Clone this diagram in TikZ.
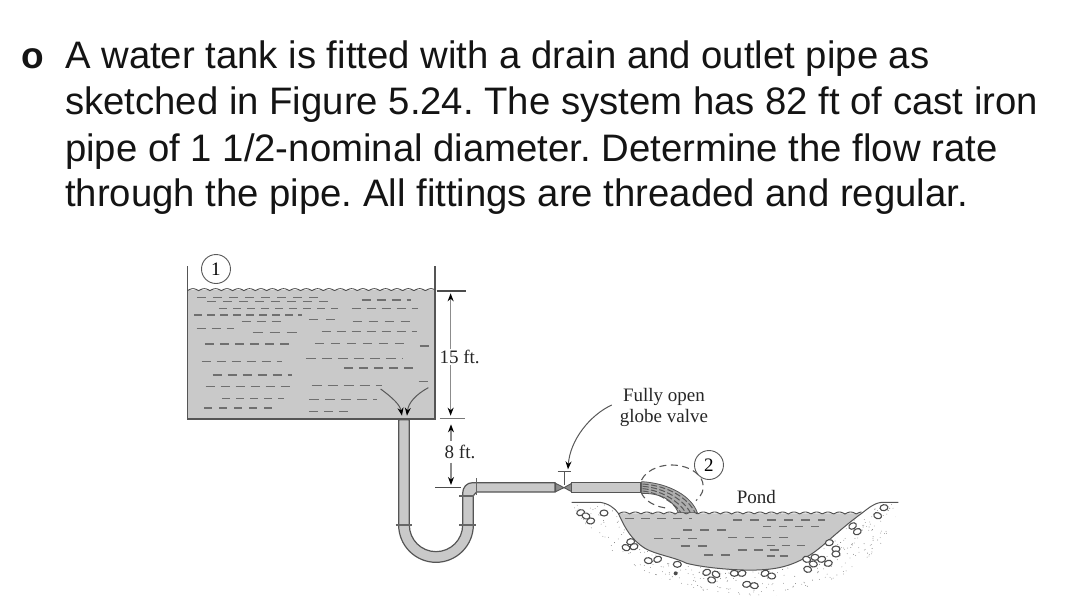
\documentclass[tikz,border=0pt]{standalone}
\usepackage{fontspec}
\setmainfont{Liberation Sans}
\newfontfamily\figfont{Liberation Serif}
\usetikzlibrary{arrows.meta}
\definecolor{waterc}{HTML}{C9C9C9}
\definecolor{linec}{HTML}{555555}
\definecolor{dashc}{HTML}{6F6F6F}
\definecolor{dimc}{HTML}{8C8C8C}
\tikzset{
  bodytext/.style={anchor=base west,inner sep=0pt,font=\fontsize{38.3}{42}\selectfont,text=black!92},
  figlabel/.style={font=\figfont\fontsize{19}{22}\selectfont,inner sep=1pt,align=center,text=black!85},
  stationmark/.style={draw=black!65,line width=.9pt,circle,minimum size=29pt,inner sep=0pt,fill=white,font=\figfont\fontsize{19}{20}\selectfont},
  outline/.style={draw=linec,line width=1.2pt},
  tick/.style={draw=dimc!85!black,line width=1.1pt},
  dimline/.style={draw=dimc,line width=1.3pt,-{Stealth[length=8pt,width=6pt,black]}},
  flowline/.style={draw=black!65,line width=1pt,-{Stealth[length=8pt,width=6pt,black]}},
  stone/.style={draw=black!70,line width=1.1pt,fill=white},
}
\newcommand{\waterrows}[1]{\foreach \ya/\xa/\xb/\onv/\offv in {#1}{\draw[dashc,line width=1.25pt,dash pattern=on \onv pt off \offv pt] (\xa,\ya)--(\xb,\ya);}}
\frenchspacing
\begin{document}
\begin{tikzpicture}[x=1pt,y=-1pt]
\useasboundingbox (0,0) rectangle (1073,595);
% text
\node[bodytext,font=\bfseries\fontsize{37}{42}\selectfont] (bul) at (21,68) {o};
\node[bodytext] (t1) at (65,68) {A water tank is fitted with a drain and outlet pipe as};
\node[bodytext] (t2) at (65,114) {sketched in Figure 5.24. The system has 82 ft of cast iron};
\node[bodytext] (t3) at (65,161) {pipe of 1 1/2-nominal diameter. Determine the flow rate};
\node[bodytext] (t4) at (65,206) {through the pipe. All fittings are threaded and regular.};

% tank
\begin{scope}[shift={(170,240)},x=.3333pt,y=-.3333pt]
\fill[waterc] (52,150)--(52,537)--(795,537)--(795,150)--cycle;
\draw[outline] (52,78)--(52,537)--(795,537)--(795,78);
\draw[black!70,line width=.9pt] plot[domain=52:795,samples=220] (\x,{150-6*abs(sin((\x-52)/34*180))+2});
\waterrows{172/82/462/9/7,185/112/492/9/7,180/575/722/9/6,206/148/505/8/6,206/545/745/9/6,225/72/395/8/5,238/418/497/9/8,245/215/345/9/6,245/548/722/9/7,265/80/192/9/6,278/248/395/10/7,275/455/742/9/6,312/105/372/9/6,310/435/715/9/7,318/750/780/9/1,355/408/697/10/6,364/95/335/9/6,384/523/745/9/6,405/128/367/9/6,425/746/775/9/1,437/425/635/10/6,440/107/365/9/6,475/157/343/8/6,479/418/620/10/6,504/103/327/8/7,515/418/547/9/6}
\coordinate (inA) at (632,447);
\coordinate (inB) at (775,443);
\coordinate (inAe) at (696,527);
\coordinate (inBe) at (711,527);
\draw[flowline] (inA) .. controls (670,475) and (690,495) .. (inAe);
\draw[flowline] (inB) .. controls (735,465) and (715,490) .. (inBe);
\node[stationmark] (s1) at (138,87) {1};
\draw[tick,black!70] (800,153)--(888,153);
\draw[tick] (810,535)--(885,535);
\coordinate (d15a) at (842,160);
\coordinate (d15b) at (842,527);
\node[figlabel] (l15) at (869,351) {15 ft.};
\draw[dimline] (842,328) -- (d15a);
\draw[dimline] (842,375) -- (d15b);
\end{scope}

% pipe + valve
\begin{scope}[shift={(380,400)},x=.3333pt,y=-.3333pt]
\draw[outline,fill=waterc]
 (56,59)--(56,375) arc[start angle=180,end angle=0,radius=112]
 --(280,287)--(290,276)--(525,276)--(525,248)--(278,248)
 .. controls (260,248) and (248,262) .. (248,280)
 --(248,375) arc[start angle=0,end angle=180,radius=80]
 --(88,59)--cycle;
\draw[tick,black!60] (47,375)--(97,375);
\draw[tick,black!60] (238,375)--(288,375);
\draw[tick,black!60] (238,288)--(282,288);
\draw[tick,black!60] (290,235)--(290,285);
\draw[outline,fill=waterc] (575,248) rectangle (780,275);
\draw[outline,fill=black!45,line width=.9pt] (527,250)--(552,263)--(527,275)--cycle;
\draw[outline,fill=black!45,line width=.9pt] (575,250)--(552,263)--(575,275)--cycle;
\draw[linec,line width=.9pt] (552,215)--(552,256);
\draw[linec,line width=.9pt] (533,215)--(572,215);
\coordinate (valve) at (564,208);
\draw[tick] (180,55)--(255,55);
\draw[tick,black!70] (165,262)--(243,262);
\coordinate (d8a) at (213,73);
\coordinate (d8b) at (213,255);
\node[figlabel] (l8) at (240,156) {8 ft.};
\draw[dimline] (213,122) -- (d8a);
\draw[dimline] (213,188) -- (d8b);
\end{scope}

% pond
\begin{scope}[shift={(560,440)},x=.3333pt,y=-.3333pt]
\begin{scope}
\clip (35,190)--(130,190)--(170,215)--(905,222)--(960,190)--(1015,190)
  .. controls (1000,300) and (900,440) .. (620,470)
  .. controls (400,470) and (150,400) .. (35,190)--cycle;
\pgfmathsetseed{5}
\foreach \i in {1,...,1000}{
  \pgfmathsetmacro{\px}{35+rnd*980}
  \pgfmathsetmacro{\py}{190+rnd*280}
  \fill[black!55] (\px,\py) circle (.42pt);
}
\end{scope}
\fill[waterc] (175,220)
 .. controls (195,265) and (215,300) .. (255,325)
 .. controls (290,345) and (340,350) .. (380,370)
 .. controls (440,385) and (540,392) .. (590,390)
 .. controls (660,388) and (700,375) .. (750,345)
 .. controls (790,320) and (830,275) .. (905,220)--cycle;
\draw[outline,line width=1pt] (35,187)--(120,187) .. controls (145,190) and (165,205) .. (175,220)
 .. controls (195,265) and (215,300) .. (255,325)
 .. controls (290,345) and (340,350) .. (380,370)
 .. controls (440,385) and (540,392) .. (590,390)
 .. controls (660,388) and (700,375) .. (750,345)
 .. controls (790,320) and (830,275) .. (905,220)
 .. controls (925,205) and (940,190) .. (965,187)--(1015,187);
\draw[black!70,line width=.9pt] plot[domain=175:905,samples=220] (\x,{222-6*abs(sin((\x-175)/34*180))});
\waterrows{235/195/395/9/7,240/520/795/9/8,260/610/790/8/8,270/370/500/9/8,292/505/690/9/8,296/283/412/9/8,316/620/745/8/7,318/362/440/9/8,330/533/660/9/7,345/432/510/9/8,348/620/692/8/5}
\foreach \sx/\sy/\sr in {62/218/15,78/228/-20,92/243/10,132/219/0,212/305/10,198/323/-20,222/320/15,265/362/-10,293/358/20,352/373/0,440/397/20,468/403/-30,455/420/-15,523/400/0,546/400/10,615/400/20,635/408/-10,560/433/10,583/437/-10,740/358/-15,765/352/0,785/358/10,760/372/-10,805/370/15,743/388/-15,808/308/10,828/327/0,828/342/0,878/258/30,892/275/20,953/227/-20,972/203/10}
  {\draw[stone,rotate around={\sr:(\sx,\sy)}] (\sx,\sy) ellipse[x radius=12,y radius=9];}
\fill[black!70] (347,400) circle (2pt);
\draw[black!65,line width=1.1pt,dash pattern=on 7pt off 4.5pt] (335,140) ++(198:95 and 65) arc[start angle=198,end angle=400,x radius=95,y radius=65];
\draw[black!65,line width=1.1pt,dash pattern=on 7pt off 4.5pt] (335,140) ++(165:95 and 65) arc[start angle=165,end angle=95,x radius=95,y radius=65];
\draw[outline,fill=waterc] (35,127) rectangle (243,157);
\draw[linec,line width=.8pt,fill=black!32] (245,125) .. controls (330,130) and (395,170) .. (412,218)
  --(355,218) .. controls (335,175) and (300,160) .. (245,160)--cycle;
\foreach \o in {0,1,2,3}{
  \draw[black!65,line width=1pt,dash pattern=on 6pt off 2.5pt]
   (248,{132+\o*7}) .. controls ({325-\o*8},{137+\o*7}) and ({385-\o*12},{175+\o*7}) .. ({405-\o*14},218);
}
\node[stationmark] (s2) at (447,75) {2};
\node[figlabel] (pond) at (589,171) {Pond};
\end{scope}

% callout
\node[figlabel] (fv) at (664,407) {Fully open\\[-1pt]globe valve};
\draw[flowline] (fv.west)++(-7,-2) .. controls (590,415) and (570,440) .. (valve);
\end{tikzpicture}
\end{document}
